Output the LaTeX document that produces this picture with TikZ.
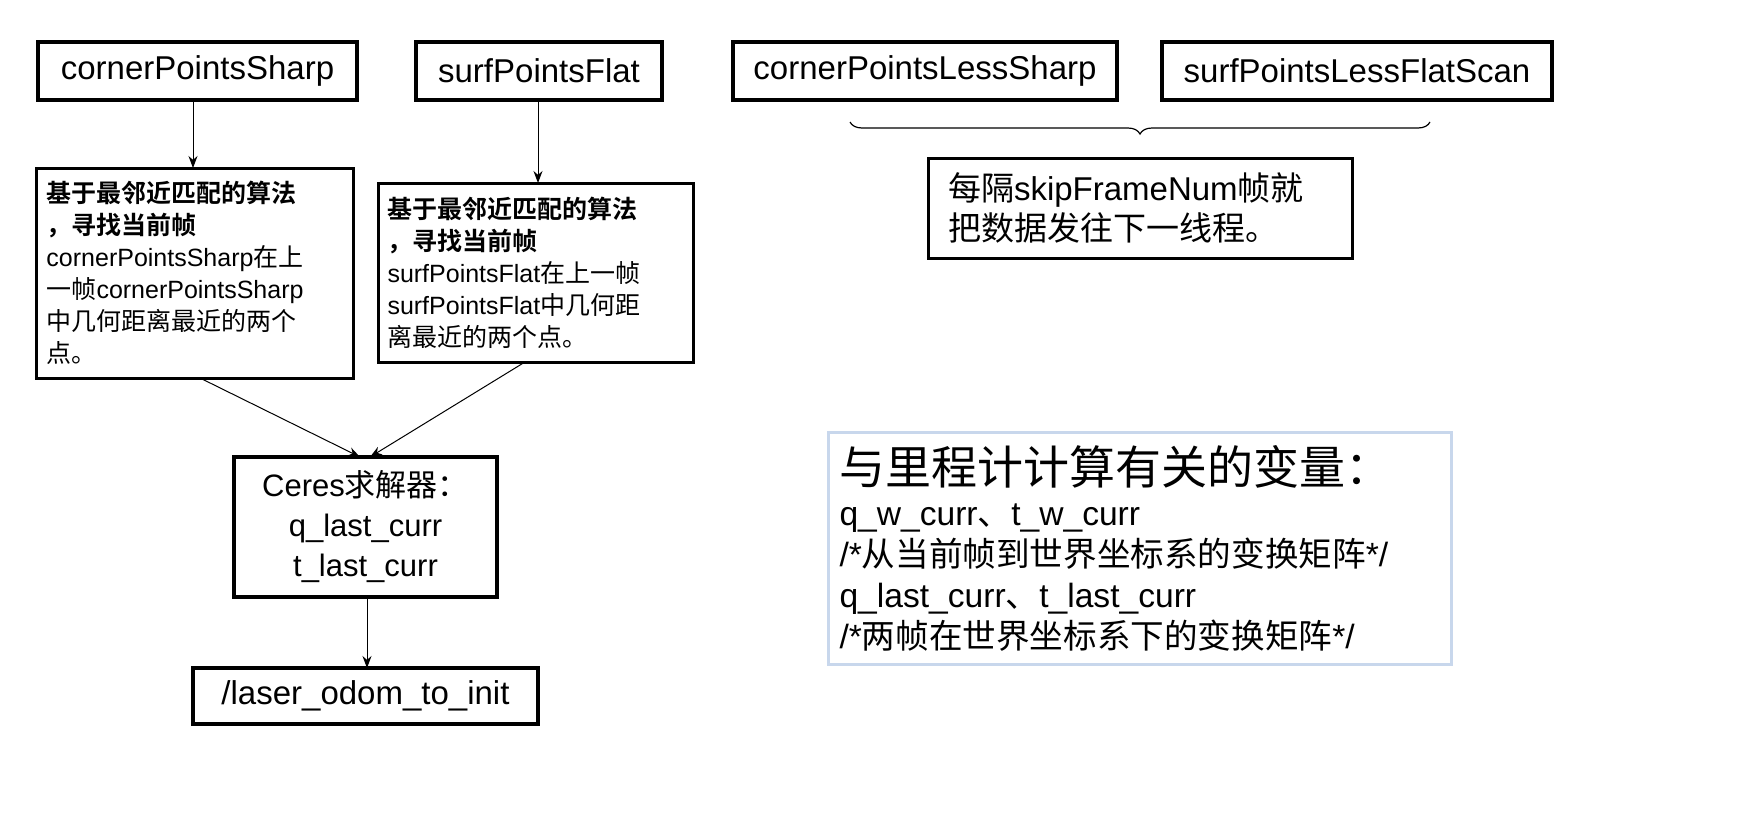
\documentclass[tikz,border=0pt]{standalone}
\usepackage{fontspec}
\setmainfont{Liberation Sans}
\newfontfamily\cjk{Noto Sans CJK SC}[BoldFont={Noto Sans CJK SC Bold}]
\newcommand{\zh}[1]{{\cjk #1}}
\newcommand{\zhb}[1]{{\cjk\bfseries #1}}
\usetikzlibrary{decorations.pathreplacing,arrows.meta}
\definecolor{lblue}{RGB}{200,215,236}
\begin{document}
\begin{tikzpicture}[x=0.5pt,y=-0.5pt,
  topbox/.style={draw,line width=1.75pt,minimum height=29pt,inner sep=0pt,font=\fontsize{16.5}{19}\selectfont},
  txtbox/.style={draw,line width=1.5pt,inner sep=0pt,align=left,font=\fontsize{12.5}{16}\selectfont},
  arr/.style={-{Stealth[length=6pt,width=4.5pt]},line width=0.5pt}]
\useasboundingbox (0,0) rectangle (1741,836);
\node[topbox,minimum width=159.5pt] (cps) at (197.5,71) {cornerPointsSharp};
\node[topbox,minimum width=123pt] (spf) at (539,71) {surfPointsFlat};
\node[topbox,minimum width=192pt] (cpls) at (925,71) {cornerPointsLessSharp};
\node[topbox,minimum width=195pt] (spls) at (1357,71) {surfPointsLessFlatScan};
\draw[decorate,decoration={brace,mirror,amplitude=6pt},line width=0.6pt] (850,122) -- (1430,122);
\node[draw,line width=1.5pt,minimum width=212pt,minimum height=50pt,inner sep=0pt,align=left,font=\fontsize{16.5}{20}\selectfont] (skip) at (1140,208)
 {\parbox{192pt}{\zh{每隔}skipFrameNum\zh{帧就}\\\zh{把数据发往下一线程。}}};
\node[txtbox,minimum width=158.5pt,minimum height=105pt] (lb) at (194.5,273)
 {\parbox{148pt}{\zhb{基于最邻近匹配的算法}\\\zhb{，寻找当前帧}\\cornerPointsSharp\zh{在上}\\\zh{一帧}cornerPointsSharp\\\zh{中几何距离最近的两个}\\\zh{点。}}};
\node[txtbox,minimum width=157.5pt,minimum height=89.5pt] (mb) at (535.5,272.5)
 {\parbox{148pt}{\zhb{基于最邻近匹配的算法}\\\zhb{，寻找当前帧}\\surfPointsFlat\zh{在上一帧}\\surfPointsFlat\zh{中几何距}\\\zh{离最近的两个点。}}};
\node[draw,line width=1.75pt,minimum width=131.5pt,minimum height=70pt,inner sep=0pt,align=center,font=\fontsize{15.5}{20}\selectfont] (ceres) at (365.5,527)
 {Ceres\zh{求解器：}\\q\_last\_curr\\t\_last\_curr};
\node[draw,line width=1.75pt,minimum width=172.5pt,minimum height=28pt,inner sep=0pt,font=\fontsize{16.5}{19}\selectfont] (laser) at (365.5,696) {/laser\_odom\_to\_init};
\node[draw=lblue,line width=1.5pt,minimum width=311.5pt,minimum height=116pt,inner sep=0pt,align=left,font=\fontsize{16.8}{20.5}\selectfont] (var) at (1139.5,548)
 {\parbox{300pt}{{\fontsize{23}{26}\selectfont\zh{与里程计计算有关的变量：}}\\q\_w\_curr\zh{、}t\_w\_curr\\/*\zh{从当前帧到世界坐标系的变换矩阵}*/\\q\_last\_curr\zh{、}t\_last\_curr\\/*\zh{两帧在世界坐标系下的变换矩阵}*/}};
\coordinate (a1) at (193,100); \coordinate (a2) at (193,168);
\coordinate (b1) at (538,100); \coordinate (b2) at (538,183);
\coordinate (c1) at (200,378); \coordinate (c2) at (360,457);
\coordinate (d1) at (525,362); \coordinate (d2) at (370,457);
\coordinate (e1) at (367,597); \coordinate (e2) at (367,668);
\draw[arr] (a1) -- (a2);
\draw[arr] (b1) -- (b2);
\draw[arr] (c1) -- (c2);
\draw[arr] (d1) -- (d2);
\draw[arr] (e1) -- (e2);
\end{tikzpicture}
\end{document}
